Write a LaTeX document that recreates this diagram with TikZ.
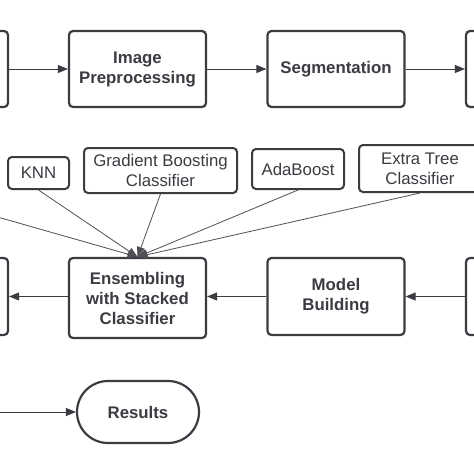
\documentclass[tikz,border=0pt]{standalone}
\usepackage{fontspec}
\setmainfont{Liberation Sans}
\usetikzlibrary{arrows.meta}
\definecolor{ink}{HTML}{3A3C42}
\begin{document}
\begin{tikzpicture}[x=1pt,y=-1pt,
  proc/.style={draw=ink,line width=2.2pt,rounded corners=4pt,minimum width=137pt,minimum height=76pt,
    font=\fontsize{16.8}{20}\selectfont\bfseries,text=ink,align=center,inner sep=0pt},
  clf/.style={draw=ink,line width=2pt,rounded corners=4pt,
    font=\fontsize{16.8}{20}\selectfont,text=ink,align=center,inner sep=0pt},
  conn/.style={draw=ink,line width=0.9pt,-{Triangle[length=10pt,width=8pt]}},
  thin/.style={draw=ink!90,line width=0.8pt,-{Triangle[length=10pt,width=8pt]}}]
\useasboundingbox (0,0) rectangle (474,474);
\fill[white] (0,0) rectangle (474,474);
\clip (0,0) rectangle (474,474);
% top row
\node[proc] (inl) at (-60.5,69) {};
\node[proc] (pre) at (137.5,69) {Image\\Preprocessing};
\node[proc] (seg) at (336,69) {Segmentation};
\node[proc] (inr) at (534.5,69) {};
\draw[conn] (inl) -- (pre);
\draw[conn] (pre) -- (seg);
\draw[conn] (seg) -- (inr);
% classifiers
\node[clf,minimum width=61pt,minimum height=32pt] (knn) at (38.5,173) {KNN};
\node[clf,minimum width=153pt,minimum height=45pt] (gb) at (160.5,170.5) {Gradient Boosting\\Classifier};
\node[clf,minimum width=92pt,minimum height=40pt] (ada) at (298,169) {AdaBoost};
\node[clf,minimum width=122pt,minimum height=47pt] (et) at (420,168.5) {Extra Tree\\Classifier};
% middle row
\node[proc,minimum height=80pt] (ens) at (137.5,298) {Ensembling\\with Stacked\\Classifier};
\node[proc,minimum height=77pt] (mb) at (336,296.5) {Model\\Building};
\node[proc,minimum height=77pt] (ml) at (-60.5,296.5) {};
\node[proc,minimum height=77pt] (mr) at (534.5,296.5) {};
\coordinate (lft) at (-60,200.6);
\draw[thin] (lft) -- (ens.north);
\draw[thin] (knn.south) ++(0,0) -- (ens.north);
\draw[thin] (gb.south) -- (ens.north);
\draw[thin] (ada.south) -- (ens.north);
\draw[thin] (et.south) -- (ens.north);
\draw[conn] (mr.west) -- (mb.east |- mr.west);
\draw[conn] (mb.west) -- (ens.east |- mb.west);
\draw[conn] (ens.west |- ml.east) -- (ml.east);
% results
\node[draw=ink,line width=2.2pt,rounded corners=31pt,minimum width=122pt,minimum height=62pt,
  font=\fontsize{16.8}{20}\selectfont\bfseries,text=ink,inner sep=0pt] (res) at (138,412) {Results};
\coordinate (rl) at (-60,412);
\draw[conn] (rl) -- (res);
\end{tikzpicture}
\end{document}
